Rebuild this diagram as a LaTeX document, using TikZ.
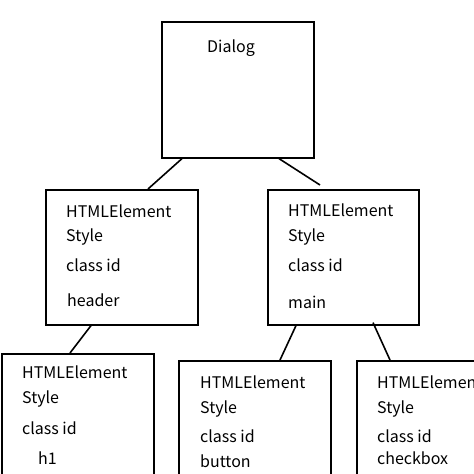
\documentclass[tikz,border=0pt]{standalone}
\usepackage{fontspec}
\setmainfont{Noto Sans CJK JP}
\usetikzlibrary{calc}
\begin{document}
\begin{tikzpicture}[x=1pt,y=-1pt,
  box/.style={draw=black,line width=1.6pt,rectangle,anchor=north west,inner sep=0pt},
  lbl/.style={anchor=base west,inner sep=0pt,font=\fontsize{16}{19}\selectfont},
  link/.style={draw=black,line width=1.6pt}]
\useasboundingbox (0,0) rectangle (474,474);
\clip (0,0) rectangle (474,474);
\fill[white] (0,0) rectangle (474,474);
% boxes
\node[box,minimum width=152pt,minimum height=136pt] (dialog) at (161,21) {};
\node[box,minimum width=152pt,minimum height=135pt] (left) at (45,189) {};
\node[box,minimum width=151pt,minimum height=135pt] (right) at (267,189) {};
\node[box,minimum width=152pt,minimum height=150pt] (bl) at (1,353) {};
\node[box,minimum width=152pt,minimum height=150pt] (bm) at (178,360) {};
\node[box,minimum width=152pt,minimum height=150pt] (br) at (356,360) {};
% texts
\node[lbl] (tdialog) at (207,52) {Dialog};
\node[lbl] (l1) at (66,217) {HTMLElement};
\node[lbl] (l2) at (66,241) {Style};
\node[lbl] (l3) at (66,271) {class id};
\node[lbl] (l4) at (67,306) {header};
\node[lbl] (r1) at (288,216) {HTMLElement};
\node[lbl] (r2) at (288,241) {Style};
\node[lbl] (r3) at (288,271) {class id};
\node[lbl] (r4) at (288,308) {main};
\node[lbl] (a1) at (22,378) {HTMLElement};
\node[lbl] (a2) at (22,403) {Style};
\node[lbl] (a3) at (22,434) {class id};
\node[lbl] (a4) at (38,464) {h1};
\node[lbl] (b1) at (200,388) {HTMLElement};
\node[lbl] (b2) at (200,413) {Style};
\node[lbl] (b3) at (200,442) {class id};
\node[lbl] (b4) at (200,467) {button};
\node[lbl] (c1) at (377,388) {HTMLElement};
\node[lbl] (c2) at (377,413) {Style};
\node[lbl] (c3) at (377,442) {class id};
\node[lbl] (c4) at (377,464) {checkbox};
% connectors
\draw[link] ($(dialog.south west)+(21,0)$) -- ($(left.north west)+(103,0)$);
\draw[link] ($(dialog.south west)+(118,0)$) -- ($(right.north west)+(53,-4)$);
\draw[link] ($(left.south west)+(46,0)$) -- ($(bl.north west)+(69,0)$);
\draw[link] ($(right.south west)+(29,0)$) -- ($(bm.north west)+(102,0)$);
\draw[link] ($(right.south west)+(106,-3)$) -- ($(br.north west)+(34,0)$);
\end{tikzpicture}
\end{document}
